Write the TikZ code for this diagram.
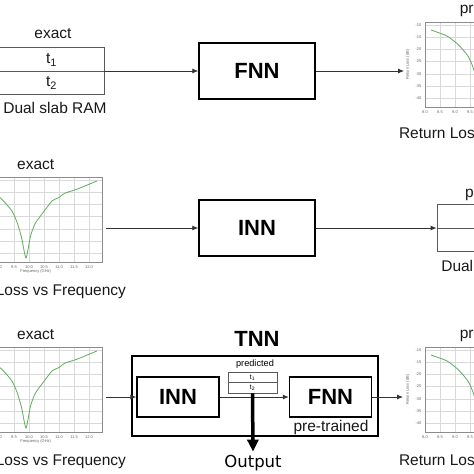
\documentclass[tikz,border=0pt]{standalone}
\usepackage{fontspec}
\setmainfont{Liberation Sans}
\newfontfamily\outfont{DejaVu Sans}
\usetikzlibrary{arrows.meta, positioning}
\definecolor{plotgreen}{RGB}{96,172,96}
\tikzstyle{netbox} = [rectangle, draw=black, line width=1.5pt, minimum width=116pt, minimum height=56pt, font=\fontsize{22}{24}\selectfont\bfseries]
\tikzstyle{subbox} = [rectangle, draw=black, line width=1.5pt, minimum width=82pt, minimum height=40pt, font=\fontsize{22}{24}\selectfont\bfseries]
\tikzstyle{slab} = [rectangle, draw=black!65, line width=0.8pt, minimum width=105pt, minimum height=47pt]
\tikzstyle{flow} = [-{Latex[length=6pt, width=5pt]}, draw=black!80, line width=0.8pt]
\tikzstyle{captext} = [font=\fontsize{15.5}{18}\selectfont, text=black!90]
\tikzstyle{ticktext} = [font=\fontsize{4}{5}\selectfont, text=black!60, inner sep=0.5pt]
\tikzstyle{gridline} = [draw=black!15, line width=0.4pt]

% return loss plot: #1 name, #2 #3 top left corner of the axes, #4 title
\newcommand{\lossplot}[4]{%
\begin{scope}[shift={(#2,#3)}, x=30pt, y=2.44pt, shift={(-8,8.8)}]
\foreach \f [count=\i] in {8.0,8.5,9.0,9.5,10.0,10.5,11.0,11.5,12.0} {
  \draw[gridline] (\f,-43.7) -- (\f,-8.8);
  \node (#1x\i) [ticktext] at (\f,-45.8) {\f};
}
\foreach \d [count=\i] in {-10,-15,-20,-25,-30,-35,-40} {
  \draw[gridline] (8,\d) -- (12.45,\d);
  \node (#1y\i) [ticktext, anchor=east] at (7.9,\d) {\d};
}
\draw[draw=black!45, line width=0.5pt] (8,-43.7) rectangle (12.45,-8.8);
\node (#1yl) [ticktext, rotate=90] at (7.43,-26.25) {Return Loss (dB)};
\node (#1xl) [ticktext] at (10.225,-47.6) {Frequency (GHz)};
\draw[plotgreen, line width=0.8pt, line join=round] plot[smooth, tension=0.35] coordinates {(8.2,-12.1) (8.73,-14.5) (9.1,-18.0) (9.43,-22.7) (9.6,-27.3) (9.75,-33.5) (9.9,-42) (10.05,-33) (10.2,-28) (10.4,-24.5) (10.77,-18.6) (11.0,-17.2) (11.2,-15.4) (11.6,-13.8) (12.27,-10.4)};
\node (#1t) [captext] at (10.225,-3.5) {#4};
\end{scope}}

\begin{document}
\begin{tikzpicture}[x=1pt, y=-1pt]
\useasboundingbox (0,0) rectangle (474,474);
\clip (0,0) rectangle (474,474);
\fill[white] (0,0) rectangle (474,474);

% forward network
\node (slab1) [slab] at (51.5,71) {};
\draw[draw=black!65, line width=0.8pt] (slab1.west) -- (slab1.east);
\node (t1a) [captext] at (51.5,60) {t\textsubscript{1}};
\node (t2a) [captext] at (51.5,83) {t\textsubscript{2}};
\node (ex1) [captext] at (53,34) {exact};
\node (ram1) [captext] at (55,108) {Dual slab RAM};
\node (fnn1) [netbox] at (257,71) {FNN};
\lossplot{pa}{425}{22}{predicted}
\coordinate (pain) at (404,71);
\node (rl1) [captext] at (489.5,135) {Return Loss vs Frequency};
\draw [flow] (slab1.east) -- (fnn1.west);
\draw [flow] (fnn1.east) -- (pain);

% inverse network
\lossplot{pb}{-31}{177}{exact}
\coordinate (pbout) at (106,228);
\node (rl2) [captext] at (35.5,292) {Return Loss vs Frequency};
\node (inn2) [netbox] at (257,228) {INN};
\node (slab2) [slab] at (489.5,228) {};
\draw[draw=black!65, line width=0.8pt] (slab2.west) -- (slab2.east);
\node (pr2) [captext] at (497,193) {predicted};
\node (ram2) [captext] at (493,266) {Dual slab RAM};
\draw [flow] (pbout) -- (inn2.west);
\draw [flow] (inn2.east) -- (slab2.west);

% tandem network
\lossplot{pc}{-31}{347}{exact}
\coordinate (pcout) at (106,397);
\node (rl3) [captext] at (35.5,462) {Return Loss vs Frequency};
\node (tnn) [rectangle, draw=black, line width=1.5pt, minimum width=246pt, minimum height=80pt] at (255,396) {};
\node (tnnlab) [font=\fontsize{22}{24}\selectfont\bfseries] at (257,339) {TNN};
\node (inn3) [subbox] at (178,397) {INN};
\node (fnn3) [subbox] at (330.5,397) {FNN};
\node (tpred) [slab, minimum width=49pt, minimum height=21pt] at (252.5,382.5) {};
\draw[draw=black!65, line width=0.6pt] (tpred.west) -- (tpred.east);
\node (t1b) [font=\fontsize{7}{8}\selectfont, inner sep=0pt] at (252.5,377.5) {t\textsubscript{1}};
\node (t2b) [font=\fontsize{7}{8}\selectfont, inner sep=0pt] at (252.5,388) {t\textsubscript{2}};
\node (predlab) [font=\fontsize{9.2}{10}\selectfont] at (255,364) {predicted};
\node (pretr) [captext, anchor=east] at (372,427) {pre-trained};
\node (outlab) [font=\outfont\fontsize{16.5}{18}\selectfont] at (253,463) {Output};
\lossplot{pd}{425}{347}{predicted}
\coordinate (pdin) at (403,397);
\node (rl4) [captext] at (489.5,462) {Return Loss vs Frequency};
\draw [flow] (pcout) -- (inn3.west);
\draw [flow] (inn3.east) -- (fnn3.west);
\draw [flow] (fnn3.east) -- (pdin);
\draw [-{Triangle[length=12pt, width=11pt]}, line width=3.5pt] (tpred.south) -- (outlab.north);
\end{tikzpicture}
\end{document}
